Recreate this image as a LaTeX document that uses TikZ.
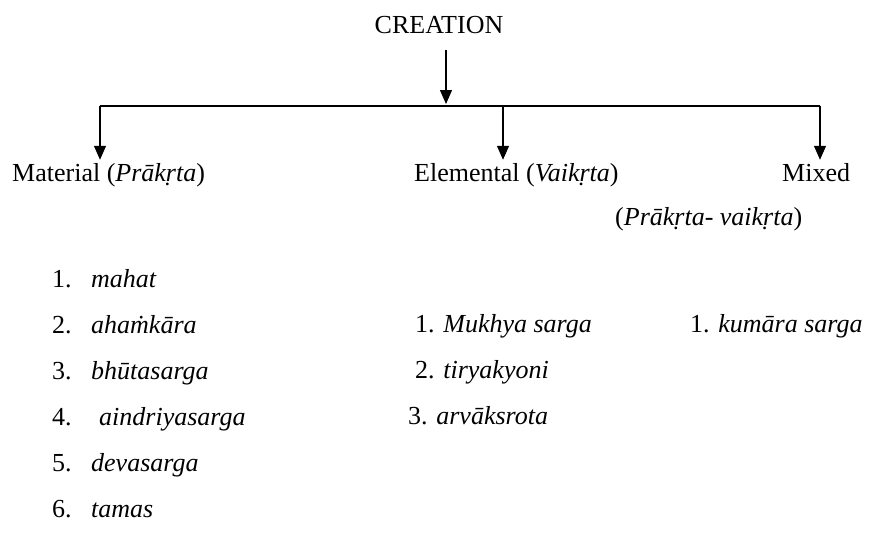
\documentclass[tikz,border=0pt]{standalone}
\usepackage{fontspec}
\setmainfont{Liberation Serif}
\usetikzlibrary{arrows.meta}

\begin{document}
\begin{tikzpicture}[x=1pt,y=-1pt,
  every node/.style={inner sep=2pt,font=\fontsize{26}{46}\selectfont},
  txt/.style={anchor=base west},
  branch/.style={-{Triangle[width=12pt,length=14pt]},line width=1.3pt},
  bar/.style={line width=2.2pt}]
\useasboundingbox (0,0) rectangle (878,536);
\node[anchor=base] (creation) at (439,33) {CREATION};
\coordinate (join) at (446,104);
\coordinate (lb) at (100,106);
\coordinate (mb) at (503,106);
\coordinate (rb) at (820,106);
\node[txt] (mat) at (10,181) {Material (\textit{Prākṛta})};
\node[txt] (elem) at (412,181) {Elemental (\textit{Vaikṛta})};
\node[txt] (mix) at (780,181) {Mixed};
\node[txt] (mixsub) at (613,225) {(\textit{Prākṛta- vaikṛta})};
\draw[branch,shorten <=15pt] (creation.south -| join) -- (join);
\draw[bar] (lb) -- (rb);
\draw[branch,shorten >=1pt] (lb) -- (lb |- mat.north);
\draw[branch,shorten >=1pt] (mb) -- (mb |- elem.north);
\draw[branch,shorten >=1pt] (rb) -- (rb |- mix.north);
\node[txt] (matlist) at (50,287) {%
\begin{tabular}[t]{@{}p{39pt}@{}l@{}}
1. & \textit{mahat}\\
2. & \textit{ahaṁkāra}\\
3. & \textit{bhūtasarga}\\
4. & \hspace{8pt}\textit{aindriyasarga}\\
5. & \textit{devasarga}\\
6. & \textit{tamas}
\end{tabular}};
\node[txt] (elemlist) at (406,332) {%
\begin{tabular}[t]{@{}l@{}}
\hspace{7pt}1. \textit{Mukhya sarga}\\
\hspace{7pt}2. \textit{tiryakyoni}\\
3. \textit{arvāksrota}
\end{tabular}};
\node[txt] (mixlist) at (688,332) {1. \textit{kumāra sarga}};
\end{tikzpicture}
\end{document}
